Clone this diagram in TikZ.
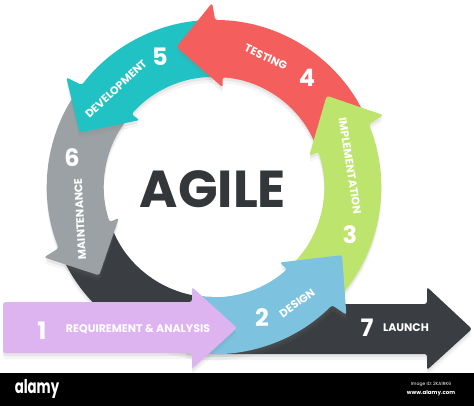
\documentclass[tikz,border=0pt]{standalone}
\usepackage{fontspec}
\setmainfont{Poppins}
\usetikzlibrary{shadows}
\definecolor{cpurple}{RGB}{221,180,240}
\definecolor{cblue}{RGB}{125,195,224}
\definecolor{cgreen}{RGB}{189,229,110}
\definecolor{cred}{RGB}{244,94,92}
\definecolor{cteal}{RGB}{32,194,196}
\definecolor{cgray}{RGB}{155,161,164}
\definecolor{cdark}{RGB}{58,62,66}
\definecolor{cagile}{RGB}{52,55,58}
\tikzset{
  arrowshape/.style={rounded corners=2.5pt,
    drop shadow={opacity=0.08, shadow xshift=0pt, shadow yshift=-6pt},
    drop shadow={opacity=0.12, shadow xshift=0pt, shadow yshift=-3pt}},
  lbl/.style={text=white, font=\bfseries\fontsize{11}{11}\selectfont, inner sep=0pt, text depth=0pt},
  num/.style={text=white, font=\bfseries\fontsize{24}{24}\selectfont, inner sep=0pt, text depth=0pt}
}
% #1 colour, #2 tail angle, #3 inner barb angle, #4 outer barb angle, #5 tip angle
\newcommand\ringarrow[5]{%
  \begin{scope}[shift={(C)}]
    \fill[#1, arrowshape] (#2:167) arc[start angle=#2, end angle=#4-1, radius=167]
      -- (#4:184) -- (#5:145) -- (#3:100) -- (#3+0.6:110)
      arc[start angle=#3+0.6, end angle=#2, radius=110] -- cycle;
  \end{scope}}
\begin{document}
\begin{tikzpicture}[x=1pt,y=1pt]
\useasboundingbox (0,0) rectangle (474,-406);
\fill[white] (0,0) rectangle (474,-406);
\coordinate (C) at (214,-187);
% dark ring part + launch arrow
\begin{scope}[shift={(C)}]
  \fill[cdark, arrowshape] (202.5:167) arc[start angle=202.5, end angle=270, radius=167]
    -- (213,-167) -- (213,-183) -- (258,-142) -- (213,-100) -- (213,-117)
    -- (0,-117) -- (270:110) arc[start angle=270, end angle=202.5, radius=110] -- cycle;
\end{scope}
\ringarrow{cgray}{143.4}{198}{202.5}{217.6}
\ringarrow{cteal}{90.6}{138}{143.4}{158}
\ringarrow{cred}{23}{85}{90.6}{105}
\ringarrow{cgreen}{-44}{18}{23}{39}
\ringarrow{cblue}{-100}{-49}{-44}{-28}
% requirement arrow
\fill[cpurple, arrowshape] (3,-302) -- (192,-302) -- (192,-287) -- (237,-328)
  -- (192,-369) -- (192,-353) -- (3,-353) -- cycle;
% texts
\node[font=\bfseries\fontsize{52}{52}\selectfont, text=cagile, inner sep=0pt, text depth=0pt] (agile) at (213,-189) {AGILE};
\node[num] (n1) at (42,-331) {1};
\node[lbl] (l1) at (138,-329) {REQUIREMENT \& ANALYSIS};
\node[num] (n2) at (262,-318) {2};
\node[lbl, rotate=36] (l2) at (297,-303) {DESIGN};
\node[num] (n3) at (350,-235) {3};
\node[lbl, rotate=-81] (l3) at (350,-166) {IMPLEMENTATION};
\node[num] (n4) at (307,-78) {4};
\node[lbl, rotate=-25] (l4) at (266,-57) {TESTING};
\node[num] (n5) at (160,-57) {5};
\node[lbl, rotate=43] (l5) at (116,-89) {DEVELOPMENT};
\node[num] (n6) at (72,-158) {6};
\node[lbl, rotate=93] (l6) at (80,-219) {MAINTENANCE};
\node[num] (n7) at (367,-328) {7};
\node[lbl] (l7) at (406,-328) {LAUNCH};
% bottom bar
\fill[black] (0,-373) rectangle (474,-406);
\node[text=white, font=\bfseries\fontsize{19}{19}\selectfont, inner sep=0pt] (alamy) at (37,-389) {\scalebox{0.7}[1]{alamy}};
\node[text=white, font=\fontsize{4.5}{4.5}\selectfont, inner sep=0pt] (imgid) at (431,-384) {Image ID: 2KA1RK6};
\node[text=white, font=\bfseries\fontsize{5.5}{5.5}\selectfont, inner sep=0pt] (www) at (431,-393) {www.alamy.com};
\end{tikzpicture}
\end{document}
